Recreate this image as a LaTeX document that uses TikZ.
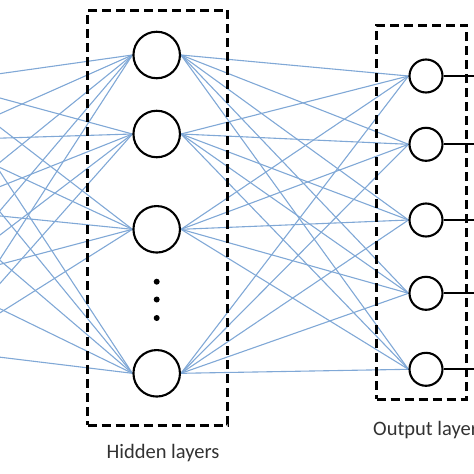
\documentclass[tikz,border=0pt]{standalone}
\usepackage{fontspec}
\setmainfont{Carlito}
\usetikzlibrary{backgrounds}
\definecolor{linkblue}{RGB}{128,168,214}
\definecolor{labelgray}{RGB}{50,50,50}
\begin{document}
\begin{tikzpicture}[x=1pt,y=-1pt,
  conn/.style={draw=linkblue,line width=1.1pt},
  hid/.style={circle,draw=black,line width=2.1pt,fill=white,minimum size=46.5pt,inner sep=0pt},
  outn/.style={circle,draw=black,line width=2.1pt,fill=white,minimum size=33pt,inner sep=0pt},
  grp/.style={draw=black,line width=3pt,dash pattern=on 9pt off 5pt,inner sep=0pt},
  outline/.style={draw=black,line width=2.3pt},
  lbl/.style={text=labelgray,font=\fontsize{20.5}{23}\selectfont,inner sep=0pt},
  dotn/.style={circle,fill=black,minimum size=6pt,inner sep=0pt}]
\useasboundingbox (0,0) rectangle (474,474);
\clip (0,0) rectangle (474,474);
% input points (off the picture)
\coordinate (i1) at (-59,82);
\coordinate (i2) at (-59,140);
\coordinate (i3) at (-59,210);
\coordinate (i4) at (-59,280);
\coordinate (i5) at (-59,350);
% hidden nodes
\node[hid] (h1) at (156.7,55) {};
\node[hid] (h2) at (156.7,134) {};
\node[hid] (h3) at (156.7,229.3) {};
\node[hid] (h4) at (156.7,373.3) {};
% output nodes
\node[outn] (o1) at (426,76) {};
\node[outn] (o2) at (426,144.3) {};
\node[outn] (o3) at (426,220) {};
\node[outn] (o4) at (426,293.3) {};
\node[outn] (o5) at (426,369.3) {};
% dots
\node[dotn] (d1) at (156.7,281.7) {};
\node[dotn] (d2) at (156.7,299.5) {};
\node[dotn] (d3) at (156.7,318) {};
% connectors behind
\begin{scope}[on background layer]
\foreach \i in {1,...,5}{
  \foreach \h in {1,...,4}{
    \draw[conn] (i\i) -- (h\h.west);
  }
}
\foreach \h in {1,...,4}{
  \foreach \o in {1,...,5}{
    \draw[conn] (h\h.east) -- (o\o.west);
  }
}
\end{scope}
% boxes
\node[grp,minimum width=140pt,minimum height=415pt] (hbox) at (157.5,217.5) {};
\node[grp,minimum width=90pt,minimum height=374pt] (obox) at (421.7,212) {};
% output lines
\foreach \o/\y in {1/76,2/144.3,3/220,4/293.3,5/369.3}{
  \coordinate (oe\o) at (480,\y);
  \draw[outline] (o\o.east) -- (oe\o);
}
% labels
\node[lbl,anchor=base] (hl) at (163,458) {Hidden layers};
\node[lbl,anchor=base west] (ol) at (373,435) {Output layer};
\end{tikzpicture}
\end{document}
